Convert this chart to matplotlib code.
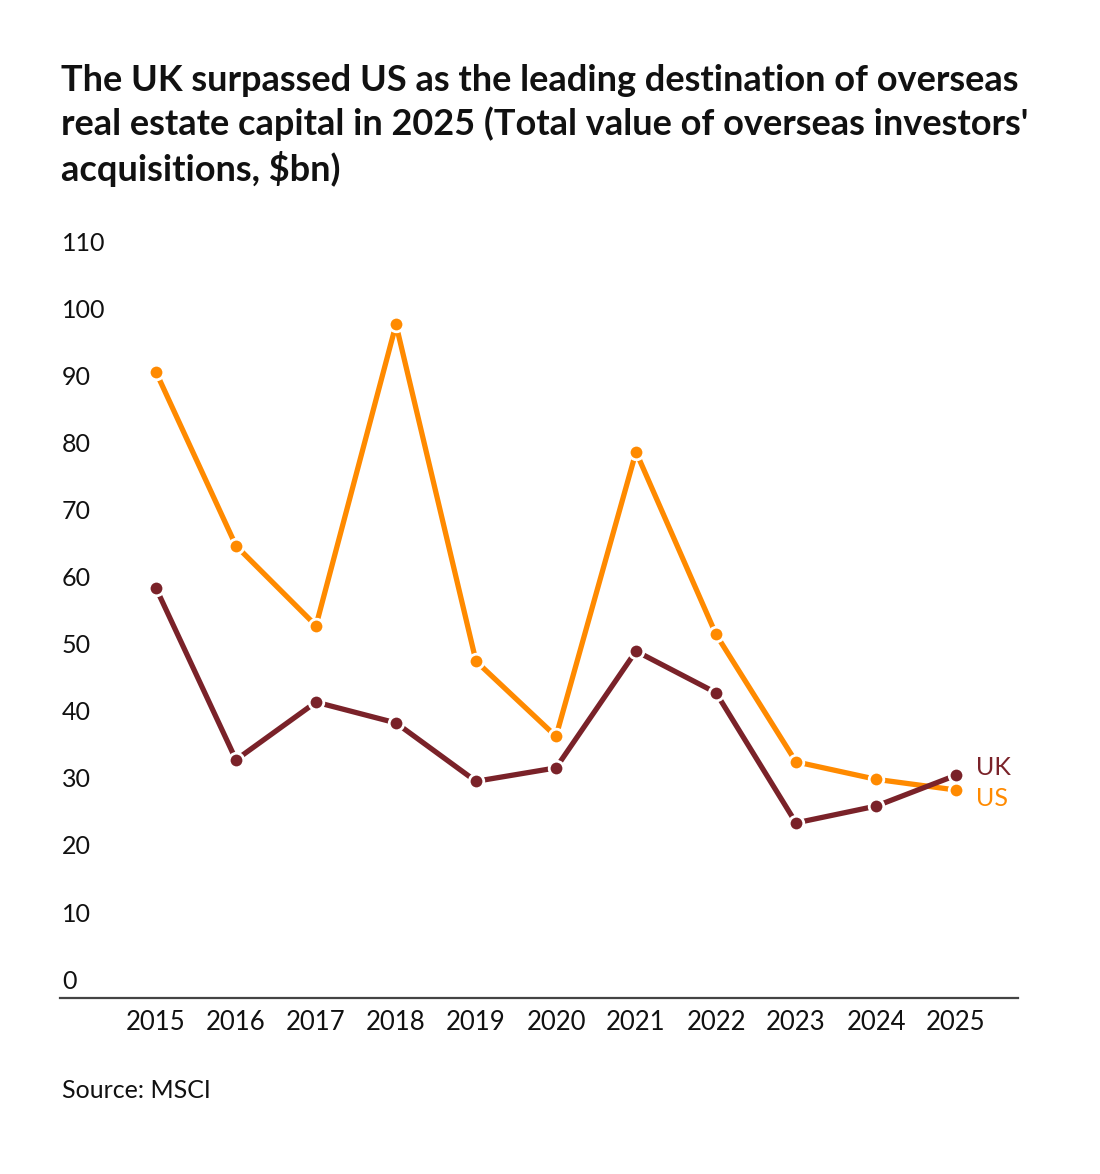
import matplotlib
matplotlib.use('Agg')
import matplotlib.pyplot as plt
import matplotlib.transforms as mtrans

years = [2015, 2016, 2017, 2018, 2019, 2020, 2021, 2022, 2023, 2024, 2025]
us = [93.3, 67.4, 55.5, 100.4, 50.2, 39.0, 81.4, 54.2, 35.2, 32.6, 31.0]
uk = [61.1, 35.5, 44.1, 41.0, 32.3, 34.3, 51.7, 45.5, 26.1, 28.6, 33.2]
yticks = [0, 10, 20, 30, 40, 50, 60, 70, 80, 90, 100, 110]

c_us = '#ff8a00'
c_uk = '#7a2229'

plt.rcParams['font.family'] = ['Lato', 'DejaVu Sans']

fig = plt.figure(figsize=(11, 11.74), dpi=100)
ax = fig.add_axes([60/1100, 176/1174, 958/1100, 738/1174])

for vals, col in [(us, c_us), (uk, c_uk)]:
    ax.plot(years, vals, color=col, lw=3.8, marker='o', ms=10.5,
            markeredgecolor='white', markeredgewidth=2, solid_capstyle='round', zorder=3)

ax.set_xlim(2013.8, 2025.775)
ax.set_ylim(0, 110)
ax.set_xticks(years)
ax.set_xticklabels([str(y) for y in years], fontsize=18.5, color='#111111')
ax.tick_params(axis='x', length=0, pad=9)
ax.set_yticks([])
for s in ['top', 'right', 'left']:
    ax.spines[s].set_visible(False)
ax.spines['bottom'].set_color('#444444')
ax.spines['bottom'].set_linewidth(1.6)

tr = mtrans.blended_transform_factory(ax.transAxes, ax.transData)
for v in yticks:
    ax.text(0.002, v + 0.8, str(v), transform=tr, ha='left', va='bottom',
            fontsize=18, color='#111111', clip_on=False)

ax.text(2025.25, uk[-1] + 1.2, 'UK', color=c_uk, fontsize=18, va='center', ha='left')
ax.text(2025.25, us[-1] - 1.2, 'US', color=c_us, fontsize=18, va='center', ha='left')

fig.text(61/1100, 1 - 64/1174,
         "The UK surpassed US as the leading destination of overseas\n"
         "real estate capital in 2025 (Total value of overseas investors'\n"
         "acquisitions, $bn)",
         ha='left', va='top', fontsize=26, fontweight='bold', color='#111111',
         linespacing=1.33)

fig.text(62/1100, 1 - 1091/1174, 'Source: MSCI', ha='left', va='center',
         fontsize=18, color='#111111')

fig.savefig('out.png', dpi=100, facecolor='white')
